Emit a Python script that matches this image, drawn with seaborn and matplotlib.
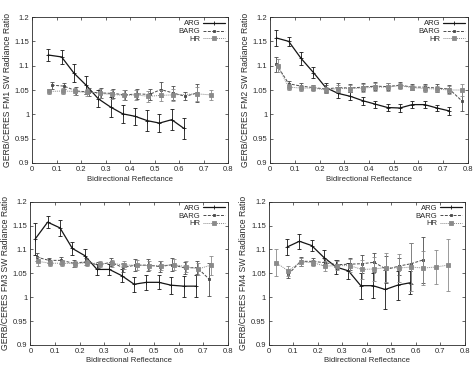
import numpy as np
import matplotlib
matplotlib.use("Agg")
import matplotlib.pyplot as plt
import seaborn as sns
from matplotlib.ticker import FuncFormatter

sns.set_style("ticks")
plt.rcParams["font.family"] = ["Liberation Sans", "DejaVu Sans"]
plt.rcParams["text.color"] = "#2a2a2a"
plt.rcParams["axes.labelcolor"] = "#2a2a2a"

# ---------------------------------------------------------------
# data (FM1..FM4)
# ---------------------------------------------------------------
fm1_arg_x = [0.065, 0.12, 0.17, 0.22, 0.27, 0.32, 0.37, 0.42, 0.47, 0.52, 0.57, 0.62]
fm1_arg_y = [1.122, 1.118, 1.085, 1.060, 1.032, 1.015, 1.001, 0.996, 0.987, 0.982, 0.989, 0.971]
fm1_arg_e = [0.012, 0.014, 0.018, 0.018, 0.017, 0.020, 0.019, 0.018, 0.021, 0.019, 0.021, 0.022]
fm1_barg_x = [0.08, 0.13, 0.18, 0.23, 0.28, 0.33, 0.38, 0.43, 0.48, 0.525, 0.575, 0.625, 0.675]
fm1_barg_y = [1.060, 1.058, 1.048, 1.046, 1.044, 1.043, 1.040, 1.042, 1.041, 1.051, 1.044, 1.037, 1.044]
fm1_barg_e = [0.007, 0.006, 0.008, 0.009, 0.010, 0.010, 0.011, 0.011, 0.011, 0.015, 0.015, 0.008, 0.018]
fm1_hr_x = [0.07, 0.125, 0.175, 0.225, 0.275, 0.325, 0.375, 0.425, 0.475, 0.525, 0.575, 0.675, 0.73]
fm1_hr_y = [1.047, 1.048, 1.047, 1.045, 1.043, 1.041, 1.039, 1.040, 1.037, 1.039, 1.040, 1.042, 1.040]
fm1_hr_e = [0.006, 0.006, 0.008, 0.008, 0.009, 0.010, 0.010, 0.010, 0.011, 0.011, 0.012, 0.014, 0.010]

fm2_arg_x = [0.025, 0.075, 0.125, 0.175, 0.225, 0.275, 0.325, 0.375, 0.425, 0.475, 0.525, 0.575, 0.625, 0.675, 0.725]
fm2_arg_y = [1.157, 1.150, 1.115, 1.086, 1.055, 1.043, 1.037, 1.028, 1.021, 1.014, 1.013, 1.020, 1.020, 1.013, 1.007]
fm2_arg_e = [0.016, 0.010, 0.013, 0.011, 0.010, 0.009, 0.008, 0.008, 0.007, 0.007, 0.009, 0.008, 0.008, 0.007, 0.009]
fm2_barg_x = [0.025, 0.075, 0.125, 0.175, 0.225, 0.275, 0.325, 0.375, 0.425, 0.475, 0.525, 0.575, 0.625, 0.675, 0.725, 0.775]
fm2_barg_y = [1.103, 1.063, 1.058, 1.055, 1.052, 1.055, 1.054, 1.056, 1.058, 1.057, 1.060, 1.056, 1.056, 1.054, 1.052, 1.028]
fm2_barg_e = [0.015, 0.006, 0.006, 0.006, 0.008, 0.009, 0.008, 0.008, 0.009, 0.008, 0.006, 0.006, 0.007, 0.008, 0.009, 0.022]
fm2_hr_x = [0.03, 0.075, 0.125, 0.175, 0.225, 0.275, 0.325, 0.375, 0.425, 0.475, 0.525, 0.575, 0.625, 0.675, 0.725, 0.775]
fm2_hr_y = [1.100, 1.056, 1.054, 1.054, 1.050, 1.053, 1.053, 1.054, 1.056, 1.056, 1.059, 1.055, 1.053, 1.052, 1.050, 1.050]
fm2_hr_e = [0.013, 0.006, 0.006, 0.006, 0.007, 0.008, 0.008, 0.008, 0.008, 0.008, 0.006, 0.006, 0.007, 0.007, 0.008, 0.013]

fm3_arg_x = [0.02, 0.07, 0.12, 0.17, 0.22, 0.27, 0.32, 0.37, 0.42, 0.47, 0.52, 0.57, 0.62, 0.67]
fm3_arg_y = [1.122, 1.157, 1.145, 1.102, 1.087, 1.058, 1.058, 1.045, 1.027, 1.031, 1.031, 1.025, 1.023, 1.023]
fm3_arg_e = [0.033, 0.013, 0.017, 0.013, 0.014, 0.012, 0.012, 0.013, 0.016, 0.016, 0.015, 0.018, 0.022, 0.023]
fm3_barg_x = [0.025, 0.075, 0.125, 0.175, 0.225, 0.275, 0.325, 0.375, 0.425, 0.475, 0.525, 0.575, 0.625, 0.675, 0.725]
fm3_barg_y = [1.084, 1.077, 1.077, 1.071, 1.074, 1.067, 1.073, 1.062, 1.067, 1.067, 1.064, 1.068, 1.061, 1.062, 1.037]
fm3_barg_e = [0.008, 0.006, 0.007, 0.007, 0.007, 0.007, 0.008, 0.009, 0.012, 0.012, 0.011, 0.014, 0.012, 0.013, 0.035]
fm3_hr_x = [0.03, 0.08, 0.13, 0.18, 0.23, 0.28, 0.33, 0.38, 0.43, 0.48, 0.53, 0.58, 0.63, 0.68, 0.73]
fm3_hr_y = [1.075, 1.071, 1.071, 1.070, 1.072, 1.070, 1.071, 1.067, 1.067, 1.066, 1.066, 1.068, 1.064, 1.059, 1.067]
fm3_hr_e = [0.009, 0.006, 0.006, 0.006, 0.006, 0.006, 0.007, 0.008, 0.010, 0.010, 0.010, 0.012, 0.012, 0.013, 0.020]

fm4_arg_x = [0.075, 0.125, 0.175, 0.225, 0.275, 0.325, 0.375, 0.425, 0.475, 0.525, 0.575]
fm4_arg_y = [1.105, 1.117, 1.108, 1.083, 1.063, 1.055, 1.024, 1.024, 1.016, 1.025, 1.030]
fm4_arg_e = [0.016, 0.016, 0.011, 0.016, 0.015, 0.016, 0.027, 0.026, 0.041, 0.030, 0.024]
fm4_barg_x = [0.08, 0.13, 0.18, 0.23, 0.28, 0.33, 0.38, 0.43, 0.48, 0.53, 0.58, 0.63]
fm4_barg_y = [1.048, 1.075, 1.075, 1.072, 1.068, 1.069, 1.070, 1.073, 1.058, 1.065, 1.070, 1.078]
fm4_barg_e = [0.008, 0.009, 0.007, 0.008, 0.010, 0.012, 0.019, 0.020, 0.028, 0.018, 0.043, 0.048]
fm4_hr_x = [0.03, 0.08, 0.13, 0.18, 0.23, 0.28, 0.33, 0.38, 0.43, 0.48, 0.53, 0.58, 0.63, 0.68, 0.73]
fm4_hr_y = [1.072, 1.055, 1.074, 1.072, 1.065, 1.066, 1.066, 1.058, 1.059, 1.062, 1.061, 1.063, 1.061, 1.063, 1.067]
fm4_hr_e = [0.028, 0.010, 0.008, 0.006, 0.010, 0.010, 0.013, 0.020, 0.025, 0.030, 0.030, 0.050, 0.035, 0.035, 0.055]

panels = [
    ("FM1", [(fm1_arg_x, fm1_arg_y, fm1_arg_e), (fm1_barg_x, fm1_barg_y, fm1_barg_e), (fm1_hr_x, fm1_hr_y, fm1_hr_e)]),
    ("FM2", [(fm2_arg_x, fm2_arg_y, fm2_arg_e), (fm2_barg_x, fm2_barg_y, fm2_barg_e), (fm2_hr_x, fm2_hr_y, fm2_hr_e)]),
    ("FM3", [(fm3_arg_x, fm3_arg_y, fm3_arg_e), (fm3_barg_x, fm3_barg_y, fm3_barg_e), (fm3_hr_x, fm3_hr_y, fm3_hr_e)]),
    ("FM4", [(fm4_arg_x, fm4_arg_y, fm4_arg_e), (fm4_barg_x, fm4_barg_y, fm4_barg_e), (fm4_hr_x, fm4_hr_y, fm4_hr_e)]),
]

series_names = ["ARG", "BARG", "HR"]
styles = [
    dict(color="#151515", ls="-", marker="+", ms=3, lw=0.9),
    dict(color="#4a4a4a", ls=(0, (3, 1.5)), marker="s", ms=1.6, lw=0.7),
    dict(color="#8a8a8a", ls=(0, (1, 1)), marker="s", ms=2.4, lw=0.7),
]

# axes boxes in figure fraction: left, bottom, width, height
boxes = [
    (0.068, 0.570, 0.413, 0.385),
    (0.570, 0.570, 0.417, 0.385),
    (0.064, 0.090, 0.417, 0.378),
    (0.567, 0.090, 0.414, 0.378),
]

fig = plt.figure(figsize=(4.74, 3.79), dpi=100)
fmt = FuncFormatter(lambda v, p: f"{round(v, 3):g}")

for (name, series), box in zip(panels, boxes):
    ax = fig.add_axes(box)
    for label, (x, y, e), st in zip(series_names, series, styles):
        sns.lineplot(x=x, y=y, ax=ax, color=st["color"], linestyle=st["ls"],
                     marker=st["marker"], markersize=st["ms"], linewidth=st["lw"],
                     markeredgewidth=0.6, markeredgecolor=st["color"], label=label,
                     errorbar=None, sort=False)
        ax.errorbar(x, y, yerr=e, fmt="none", ecolor=st["color"], elinewidth=0.6,
                    capsize=1.6, capthick=0.6, linestyle=st["ls"])
    ax.set_xlim(0, 0.8)
    ax.set_ylim(0.9, 1.2)
    ax.set_xticks(np.arange(0, 0.81, 0.1))
    ax.set_yticks(np.arange(0.9, 1.201, 0.05))
    ax.xaxis.set_major_formatter(fmt)
    ax.yaxis.set_major_formatter(fmt)
    ax.tick_params(direction="in", top=True, right=True, length=2.5, width=0.5,
                   labelsize=5.5, pad=2, colors="#2a2a2a")
    for sp in ax.spines.values():
        sp.set_linewidth(0.6)
        sp.set_color("#2a2a2a")
    ax.set_xlabel("Bidirectional Reflectance", fontsize=5.6, labelpad=2)
    ax.set_ylabel(f"GERB/CERES {name} SW Radiance Ratio", fontsize=6.2, labelpad=2)
    ax.legend(loc="upper right", frameon=False, markerfirst=False, fontsize=5.5,
              handlelength=2.9, labelspacing=0.05, borderpad=0.2, handletextpad=0.3,
              borderaxespad=0.2)

fig.savefig("out.png", dpi=100)
